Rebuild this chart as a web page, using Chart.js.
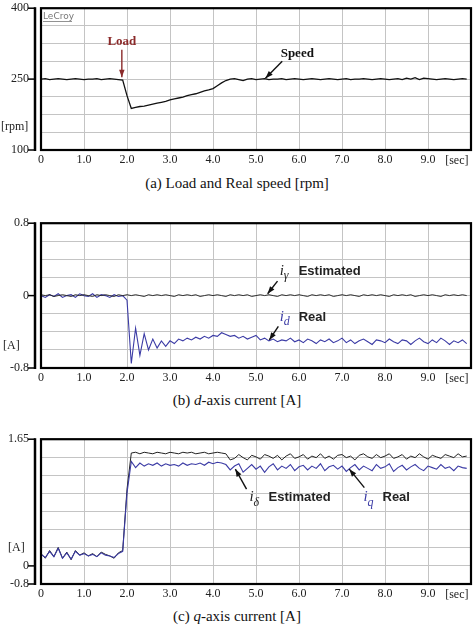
<!DOCTYPE html>
<html><head><meta charset="utf-8">
<script src="https://cdn.jsdelivr.net/npm/chart.js@4"></script>
<style>
body{margin:0;background:#fff;width:474px;height:641px;position:relative;overflow:hidden;font-family:"Liberation Serif",serif}
.p{position:absolute;left:0;width:474px}
.cap{position:absolute;left:0;width:474px;text-align:center;font-size:15px;color:#111}
</style></head><body>
<div class="p" style="top:-11px;height:181px"><canvas id="ca"></canvas></div>
<div class="cap" style="top:175px">(a) Load and Real speed [rpm]</div>
<div class="p" style="top:204px;height:184px"><canvas id="cb"></canvas></div>
<div class="cap" style="top:392px">(b) <i>d</i>-axis current [A]</div>
<div class="p" style="top:420px;height:184px"><canvas id="cc"></canvas></div>
<div class="cap" style="top:608px">(c) <i>q</i>-axis current [A]</div>
<script>
const time=[];for(let i=0;i<100;i++)time.push(+(i/10).toFixed(1));
const xTicks=["0","1.0","2.0","3.0","4.0","5.0","6.0","7.0","8.0","9.0",""];
const speed=[250,251,249,250,251,250,249,250,251,250,249,250,250,251,249,250,251,250,249,248,
215,188,190,192,193,195,197,199,201,203,206,208,210,212,215,217,219,222,225,227,
230,236,242,247,250,251,249,247,250,251,249,250,251,249,250,250,251,249,250,251,
250,249,250,251,250,249,250,251,250,249,250,251,249,250,250,251,250,249,250,251,
250,249,250,251,249,252,250,253,249,252,251,250,249,250,251,250,249,250,251,250];
const idEst=[0.01,0,0.01,-0.01,0,0.01,0,-0.01,0.01,0,0.01,0,-0.01,0.01,0,0.01,0,-0.01,0.01,0,
0.01,0,0.01,0,-0.01,0.01,0,0.01,0,0.01,0,-0.01,0.01,0,0.01,0,0.01,-0.01,0,0.01,
0,0.01,0,-0.01,0.01,0,0.01,0,0.01,-0.01,0,0.01,0,0.01,0,-0.01,0.01,0,0.01,0,
0.01,0,-0.01,0.01,0,0.01,0,0.01,-0.01,0,0.01,0,0.01,0,-0.01,0.01,0,0.01,0,0.01,
0,-0.01,0.01,0,0.01,0,0.01,-0.01,0,0.01,0,0.01,0,-0.01,0.01,0,0.01,0,0.01,0];
const idReal=[0,-0.02,0.01,-0.01,0.02,-0.02,0,0.01,-0.02,0.02,0,-0.01,0.02,-0.02,0.01,0,-0.02,0.01,-0.01,0,
-0.05,-0.75,-0.36,-0.66,-0.42,-0.6,-0.48,-0.58,-0.5,-0.56,-0.5,-0.53,-0.48,-0.5,-0.47,-0.49,-0.46,-0.48,-0.45,-0.47,
-0.44,-0.45,-0.41,-0.43,-0.45,-0.44,-0.47,-0.45,-0.48,-0.46,-0.44,-0.49,-0.47,-0.5,-0.48,-0.51,-0.49,-0.5,-0.47,-0.51,
-0.49,-0.52,-0.48,-0.5,-0.53,-0.49,-0.51,-0.48,-0.52,-0.5,-0.47,-0.52,-0.49,-0.53,-0.5,-0.48,-0.51,-0.54,-0.49,-0.5,
-0.52,-0.48,-0.51,-0.53,-0.49,-0.5,-0.54,-0.5,-0.47,-0.51,-0.53,-0.49,-0.52,-0.47,-0.5,-0.54,-0.5,-0.52,-0.49,-0.53];
const iqEst=[0.16,0.1,0.2,0.12,0.24,0.1,0.18,0.08,0.2,0.14,0.17,0.13,0.16,0.12,0.18,0.15,0.13,0.1,0.17,0.2,
1.0,1.47,1.48,1.46,1.48,1.47,1.46,1.48,1.47,1.46,1.48,1.47,1.46,1.48,1.47,1.48,1.46,1.47,1.48,1.46,
1.47,1.48,1.47,1.46,1.38,1.4,1.45,1.41,1.38,1.44,1.42,1.39,1.45,1.43,1.4,1.44,1.38,1.43,1.46,1.4,
1.42,1.45,1.39,1.43,1.41,1.46,1.4,1.43,1.39,1.44,1.45,1.41,1.43,1.38,1.44,1.46,1.42,1.4,1.45,1.41,
1.43,1.46,1.4,1.42,1.45,1.39,1.43,1.41,1.46,1.42,1.39,1.44,1.42,1.4,1.45,1.43,1.41,1.46,1.42,1.43];
const iqReal=[0.15,0.11,0.19,0.12,0.23,0.1,0.17,0.09,0.19,0.14,0.16,0.13,0.15,0.12,0.17,0.14,0.13,0.11,0.16,0.19,
0.95,1.36,1.28,1.34,1.3,1.33,1.31,1.34,1.3,1.33,1.31,1.32,1.3,1.34,1.31,1.33,1.32,1.34,1.31,1.35,
1.33,1.35,1.34,1.32,1.25,1.3,1.33,1.22,1.27,1.32,1.26,1.3,1.22,1.29,1.33,1.25,1.3,1.27,1.32,1.24,
1.29,1.31,1.25,1.3,1.27,1.33,1.24,1.29,1.31,1.26,1.3,1.23,1.28,1.32,1.25,1.3,1.27,1.24,1.32,1.27,
1.29,1.33,1.23,1.28,1.31,1.25,1.29,1.32,1.27,1.24,1.3,1.28,1.26,1.32,1.27,1.29,1.24,1.3,1.28,1.27];

const pts=(v)=>v.map((y,i)=>({x:time[i],y}));
const BLUE='#3b3ba5';
function arrow(ctx,x1,y1,x2,y2,col){
  ctx.save();ctx.strokeStyle=col;ctx.fillStyle=col;ctx.lineWidth=1.4;
  ctx.beginPath();ctx.moveTo(x1,y1);ctx.lineTo(x2,y2);ctx.stroke();
  const a=Math.atan2(y2-y1,x2-x1),h=8;
  ctx.beginPath();ctx.moveTo(x2,y2);ctx.lineTo(x2-h*Math.cos(a-0.35),y2-h*Math.sin(a-0.35));
  ctx.lineTo(x2-h*Math.cos(a+0.35),y2-h*Math.sin(a+0.35));ctx.closePath();ctx.fill();ctx.restore();
}
function make(id,padTop,ymin,ymax,labels,unit,datasets,annot){
  const step=(ymax-ymin)/8;
  const deco={id:'deco',afterDraw(c){
    const ctx=c.ctx,a=c.chartArea,xs=c.scales.x,ys=c.scales.y;
    ctx.save();ctx.strokeStyle='#000';ctx.lineWidth=2.2;
    ctx.strokeRect(a.left,a.top,a.right-a.left,a.bottom-a.top);
    const bx=a.left-6;ctx.lineWidth=2.5;
    ctx.beginPath();ctx.moveTo(bx,a.top-1);ctx.lineTo(bx,a.bottom+1);ctx.stroke();
    ctx.lineWidth=1.5;
    Object.keys(labels).forEach(k=>{const y=ys.getPixelForValue(ymin+k*step);
      ctx.beginPath();ctx.moveTo(bx-7,y);ctx.lineTo(bx,y);ctx.stroke();});
    ctx.fillStyle='#222';ctx.font='12px "Liberation Serif"';ctx.textAlign='left';ctx.textBaseline='middle';
    ctx.fillText(unit[0],unit[2],ys.getPixelForValue(unit[1]));
    ctx.fillText('[sec]',xs.getPixelForValue(9.4),a.bottom+11);
    annot(ctx,xs,ys,a);
    ctx.restore();}};
  new Chart(document.getElementById(id),{type:'line',
    data:{datasets},
    options:{responsive:true,maintainAspectRatio:false,animation:false,
      layout:{padding:{top:padTop,right:2,left:0,bottom:0}},
      plugins:{legend:{display:false},tooltip:{enabled:false}},
      elements:{point:{radius:0},line:{borderWidth:1,tension:0}},
      scales:{
        x:{type:'linear',min:0,max:10,afterFit(s){s.height=20},
          afterBuildTicks(s){s.ticks=xTicks.map((_,i)=>({value:i}))},
          ticks:{autoSkip:false,maxRotation:0,padding:3,color:'#222',font:{family:'Liberation Serif',size:12},callback:(v,i)=>xTicks[i]},
          grid:{color:'#c4c4c4',drawTicks:false},border:{display:false}},
        y:{type:'linear',min:ymin,max:ymax,afterFit(s){s.width=41},
          afterBuildTicks(s){s.ticks=[0,1,2,3,4,5,6,7,8].map(i=>({value:ymin+i*step}))},
          ticks:{autoSkip:false,padding:12,color:'#222',font:{family:'Liberation Serif',size:12},callback:(v,i)=>labels[i]||''},
          grid:{color:'#c4c4c4',drawTicks:false},border:{display:false}}}},
    plugins:[deco]});
}
const serifB='bold 13px "Liberation Serif"',sansB='bold 13px "Liberation Sans"';
make('ca',6,100,400,{0:'100',4:'250',8:'400'},['[rpm]',148,1],
  [{data:pts(speed),borderColor:'#111',borderWidth:1.3}],
  (ctx,xs,ys,a)=>{
    ctx.font='9px "DejaVu Sans"';ctx.fillStyle='#777';ctx.textAlign='left';ctx.fillText('LeCroy',a.left+2,a.top+8);
    ctx.fillRect(a.left+2,a.top+13,29,0.8);
    ctx.textAlign='center';ctx.font=serifB;ctx.fillStyle='#8b2a2a';
    ctx.fillText('Load',xs.getPixelForValue(1.88),ys.getPixelForValue(329));
    arrow(ctx,xs.getPixelForValue(1.88),ys.getPixelForValue(312),xs.getPixelForValue(1.88),ys.getPixelForValue(254),'#8b2a2a');
    ctx.fillStyle='#111';ctx.fillText('Speed',xs.getPixelForValue(5.96),ys.getPixelForValue(304));
    arrow(ctx,xs.getPixelForValue(5.61),ys.getPixelForValue(288),xs.getPixelForValue(5.22),ys.getPixelForValue(252),'#111');
  });
function ilabel(ctx,x,y,sub,word,col){
  ctx.textAlign='left';ctx.fillStyle=col;ctx.font='italic 15px "Liberation Serif"';ctx.fillText('i',x,y);
  ctx.font='italic 12px "Liberation Serif"';ctx.fillText(sub,x+4,y+5);
  ctx.font=sansB;ctx.fillStyle='#222';ctx.fillText(word,x+19,y);
}
make('cb',13,-0.8,0.8,{0:'-0.8',4:'0',8:'0.8'},['[A]',-0.56,3],
  [{data:pts(idEst),borderColor:'#222',borderWidth:0.9},{data:pts(idReal),borderColor:BLUE,borderWidth:1.1}],
  (ctx,xs,ys)=>{
    ilabel(ctx,xs.getPixelForValue(5.55),ys.getPixelForValue(0.27),'γ','Estimated','#222');
    arrow(ctx,xs.getPixelForValue(5.5),ys.getPixelForValue(0.16),xs.getPixelForValue(5.27),ys.getPixelForValue(0.02),'#111');
    ilabel(ctx,xs.getPixelForValue(5.55),ys.getPixelForValue(-0.24),'d','Real',BLUE);
    arrow(ctx,xs.getPixelForValue(5.52),ys.getPixelForValue(-0.34),xs.getPixelForValue(5.31),ys.getPixelForValue(-0.49),'#111');
  });
make('cc',13,-0.2357,1.65,{0:'-0.8',1:'0',8:'1.65'},['[A]',0.24,8],
  [{data:pts(iqReal),borderColor:BLUE,borderWidth:1.1},{data:pts(iqEst),borderColor:'#222',borderWidth:1}],
  (ctx,xs,ys)=>{
    ilabel(ctx,xs.getPixelForValue(4.85),ys.getPixelForValue(0.89),'δ','Estimated','#222');
    arrow(ctx,xs.getPixelForValue(4.78),ys.getPixelForValue(1.0),xs.getPixelForValue(4.52),ys.getPixelForValue(1.26),'#111');
    ilabel(ctx,xs.getPixelForValue(7.5),ys.getPixelForValue(0.89),'q','Real',BLUE);
    arrow(ctx,xs.getPixelForValue(7.52),ys.getPixelForValue(1.02),xs.getPixelForValue(7.17),ys.getPixelForValue(1.26),'#111');
  });
</script></body></html>
